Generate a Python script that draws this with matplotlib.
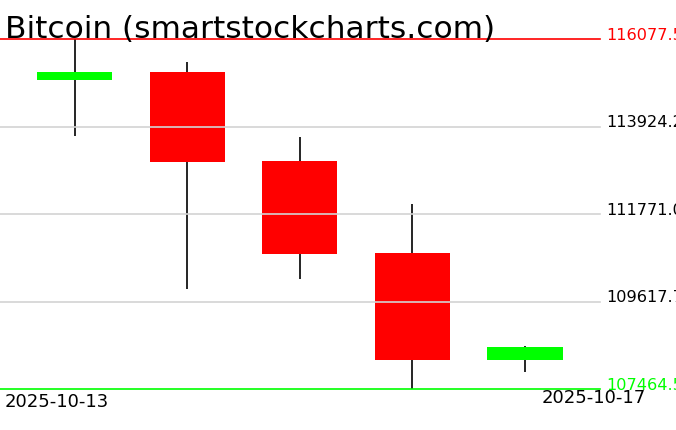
import matplotlib
matplotlib.use("Agg")
import matplotlib.pyplot as plt
import numpy as np

title = "Bitcoin (smartstockcharts.com)"
dates = ["2025-10-13", "2025-10-14", "2025-10-15", "2025-10-16", "2025-10-17"]
opens = [115068.5, 115265.4, 113075.2, 110811.2, 108178.0]
closes = [115265.4, 113050.6, 110786.5, 108178.0, 108497.9]
highs = [116077.5, 115511.5, 113665.8, 112017.0, 108522.5]
lows = [113690.4, 109925.3, 110171.3, 107464.5, 107882.7]

W, H = 676, 431
fig = plt.figure(figsize=(W / 100, H / 100), dpi=100)
fig.patch.set_facecolor("white")

top_px, bot_px, right_px = 40, 390, 600
ax = fig.add_axes([0, (H - bot_px) / H, right_px / W, (bot_px - top_px) / H])
ax.set_axis_off()

lo, hi = min(lows), max(highs)
ax.set_ylim(lo, hi)
n = len(dates)
ax.set_xlim(-2 / 3, n - 1 + 2 / 3)

x = np.arange(n)
bw = 2 / 3
for i in range(n):
    o, c = opens[i], closes[i]
    col = "#00ff00" if c >= o else "#ff0000"
    ax.vlines(x[i], lows[i], highs[i], color="black", lw=1.2, zorder=2)
    ax.bar(x[i], abs(c - o), bottom=min(o, c), width=bw, color=col,
           edgecolor="none", zorder=3)

levels = np.linspace(lo, hi, 5)
for k, lv in enumerate(levels):
    if k == 0:
        col = "#00ff00"
        tcol = "#00ff00"
    elif k == len(levels) - 1:
        col = "#ff0000"
        tcol = "#ff0000"
    else:
        col = "#d3d3d3"
        tcol = "black"
    ax.axhline(lv, color=col, lw=1.2, zorder=5, clip_on=False)
    lab = np.floor(lv * 10 + 1e-6) / 10
    ax.text(1.0 + 6 / right_px, lv, f"{lab:.1f}", transform=ax.get_yaxis_transform(),
            color=tcol, fontsize=11.6, va="baseline", ha="left", clip_on=False,
            family="DejaVu Sans")

fig.text(5 / W, (H - 38) / H, title, fontsize=22.5, va="baseline", ha="left",
         family="DejaVu Sans", color="black")

fig.text(5 / W, (H - 393) / H, dates[0], fontsize=13, va="top", ha="left",
         family="DejaVu Sans")
fig.text(646 / W, (H - 389) / H, dates[-1], fontsize=13, va="top", ha="right",
         family="DejaVu Sans")

fig.savefig("out.png", dpi=100, facecolor="white")
